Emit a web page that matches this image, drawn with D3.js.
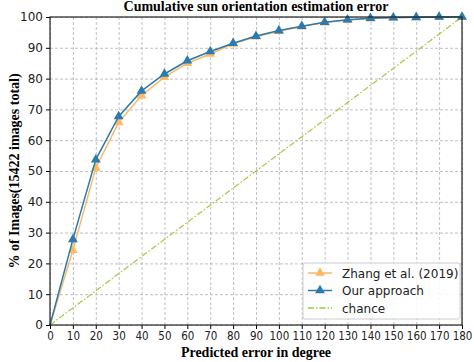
<!DOCTYPE html>
<html>
<head>
    <script src="https://d3js.org/d3.v7.min.js"></script>
    <style>
        body { margin: 0; background: white; }
        .grid line { stroke: #b0b0b0; stroke-dasharray: 3,2; stroke-width: 0.8px; }
        .grid path { stroke-width: 0; }
        .tick text { font-family: 'DejaVu Sans', sans-serif; font-size: 12px; fill: #222; }
        .xaxis .tick text { font-family: 'DejaVu Sans Condensed', 'DejaVu Sans', sans-serif; font-size: 11.5px; }
    </style>
</head>
<body>
<div id="chart"></div>
<script>
    // Data
    const errors = [0, 10, 20, 30, 40, 50, 60, 70, 80, 90, 100, 110, 120, 130, 140, 150, 160, 170, 180];
    const zhang = [0, 24.3, 51, 65.8, 74.5, 80.5, 85, 88, 91.3, 93.6, 95.4, 96.9, 98.2, 99.0, 99.5, 99.8, 99.9, 100, 100];
    const ours = [0, 27.8, 53.7, 67.7, 76, 81.5, 85.8, 88.8, 91.5, 93.8, 95.6, 97, 98.3, 99.1, 99.6, 99.8, 99.9, 100, 100];
    const chance = [0, 180];
    const yTicks = [0, 10, 20, 30, 40, 50, 60, 70, 80, 90, 100];

    const W = 474, H = 362;
    const margin = {top: 17, right: 12, bottom: 37, left: 50};
    const width = W - margin.left - margin.right;
    const height = H - margin.top - margin.bottom;

    const root = d3.select("#chart").append("svg")
        .attr("width", W).attr("height", H);
    const svg = root.append("g")
        .attr("transform", `translate(${margin.left},${margin.top})`);

    const x = d3.scaleLinear().domain([0, 180]).range([0, width]);
    const y = d3.scaleLinear().domain([0, 100]).range([height, 0]);

    // gridlines
    svg.append("g").attr("class", "grid")
        .attr("transform", `translate(0,${height})`)
        .call(d3.axisBottom(x).tickValues(errors).tickSize(-height).tickFormat(""));
    svg.append("g").attr("class", "grid")
        .call(d3.axisLeft(y).tickValues(yTicks).tickSize(-width).tickFormat(""));

    const colZhang = "#fdb863", colOurs = "#2b7bb0", colChance = "#9ccc3c";

    // chance line
    svg.append("path")
        .datum(chance)
        .attr("fill", "none")
        .attr("stroke", colChance)
        .attr("stroke-width", 1.2)
        .attr("stroke-dasharray", "6,2,1.5,2")
        .attr("d", d3.line().x(d => x(d)).y(d => y(d / 1.8)));

    const tri = d3.symbol().type(d3.symbolTriangle).size(42);

    function series(vals, col) {
        const pts = errors.map((e, i) => [e, vals[i]]);
        svg.append("path").datum(pts)
            .attr("fill", "none").attr("stroke", col).attr("stroke-width", 1.5)
            .attr("d", d3.line().x(d => x(d[0])).y(d => y(d[1])));
        svg.selectAll(null).data(pts.slice(1)).enter().append("path")
            .attr("d", tri)
            .attr("fill", col)
            .attr("transform", d => `translate(${x(d[0])},${y(d[1])})`);
    }
    series(zhang, colZhang);
    series(ours, colOurs);

    // axes
    const xAxis = svg.append("g")
        .attr("class", "xaxis")
        .attr("transform", `translate(0,${height})`)
        .call(d3.axisBottom(x).tickValues(errors).tickSize(4).tickPadding(3));
    const yAxis = svg.append("g")
        .call(d3.axisLeft(y).tickValues(yTicks).tickSize(4).tickPadding(3));
    xAxis.select(".domain").remove();
    yAxis.select(".domain").remove();

    // frame
    svg.append("rect")
        .attr("width", width).attr("height", height)
        .attr("fill", "none").attr("stroke", "#222").attr("stroke-width", 1.2);

    // title and labels
    root.append("text")
        .attr("x", 256).attr("y", 11)
        .attr("text-anchor", "middle")
        .style("font-family", "'Liberation Serif', serif")
        .style("font-weight", "bold").style("font-size", "14px")
        .text("Cumulative sun orientation estimation error");
    root.append("text")
        .attr("x", margin.left + width / 2).attr("y", 357)
        .attr("text-anchor", "middle")
        .style("font-family", "'Liberation Serif', serif")
        .style("font-weight", "bold").style("font-size", "14px")
        .text("Predicted error in degree");
    root.append("text")
        .attr("transform", `translate(19,${margin.top + height / 2}) rotate(-90)`)
        .attr("text-anchor", "middle")
        .style("font-family", "'Liberation Serif', serif")
        .style("font-weight", "bold").style("font-size", "14px")
        .text("% of Images(15422 images total)");

    // legend
    const legendItems = [
        {name: "Zhang et al. (2019)", col: colZhang, marker: true, dash: null},
        {name: "Our approach", col: colOurs, marker: true, dash: null},
        {name: "chance", col: colChance, marker: false, dash: "6,2,1.5,2"}
    ];
    const lg = svg.append("g").attr("transform", `translate(${width - 159},${height - 62})`);
    lg.append("rect")
        .attr("width", 157).attr("height", 56).attr("rx", 2)
        .attr("fill", "white").attr("fill-opacity", 0.85)
        .attr("stroke", "#ccc");
    legendItems.forEach((d, i) => {
        const gy = 10 + i * 17.5;
        lg.append("line")
            .attr("x1", 5).attr("x2", 29).attr("y1", gy).attr("y2", gy)
            .attr("stroke", d.col).attr("stroke-width", 1.5)
            .attr("stroke-dasharray", d.dash);
        if (d.marker) {
            lg.append("path").attr("d", tri).attr("fill", d.col)
                .attr("transform", `translate(17,${gy})`);
        }
        lg.append("text")
            .attr("x", 39).attr("y", gy + 4.5)
            .style("font-family", "'DejaVu Sans', sans-serif")
            .style("font-size", "12px").attr("fill", "#222")
            .text(d.name);
    });
</script>
</body>
</html>
